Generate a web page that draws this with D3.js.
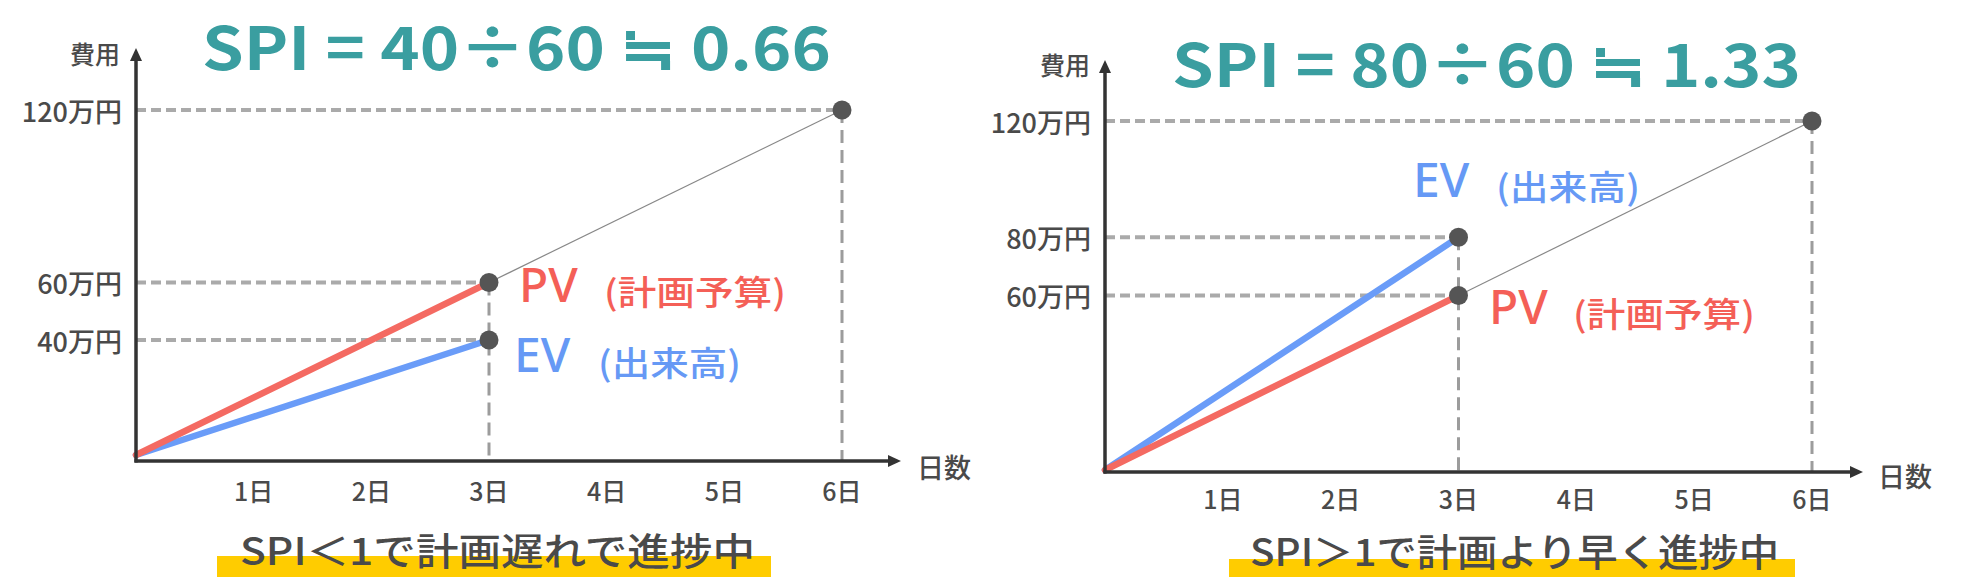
<!DOCTYPE html>
<html><head><meta charset="utf-8">
<script src="https://cdn.jsdelivr.net/npm/d3@7"></script>
<style>
html,body{margin:0;padding:0;background:#fff;}
svg{display:block;font-family:"Noto Sans CJK JP","Noto Sans",sans-serif;}
</style>
</head><body>
<svg id="chart" width="1965" height="577"></svg>
<script>
// ---- data ----
const dayTicks = [1, 2, 3, 4, 5, 6];
const dayTickLabels = ["1日", "2日", "3日", "4日", "5日", "6日"];
const titles = ["SPI = 40÷60 ≒ 0.66", "SPI = 80÷60 ≒ 1.33"];
const captions = ["SPI＜1で計画遅れで進捗中", "SPI＞1で計画より早く進捗中"];
const seriesDays = [0, 3];
const pvValues = [0, 60];
const evValuesLeft = [0, 40];
const evValuesRight = [0, 80];
const planDays = [3, 6];
const planValues = [60, 120];
const yTicksLeft = [120, 60, 40];
const yTicksRight = [120, 80, 60];
const yTickLabelsLeft = ["120万円", "60万円", "40万円"];
const yTickLabelsRight = ["120万円", "80万円", "60万円"];
const yAxisTitle = "費用";
const xAxisTitle = "日数";
const pvName = "PV", pvSub = "(計画予算)";
const evName = "EV", evSub = "(出来高)";

// ---- styles ----
const C = {
  axis: "#333", text: "#4a4a4a", title: "#3a9ea0", pv: "#f46a62", pvText: "#f45f57",
  ev: "#6a9cf8", evText: "#6699f5", point: "#555", guideH: "#aaa", guideV: "#9c9c9c",
  plan: "#888", band: "#ffcc00"
};

const svg = d3.select("#chart");

const panels = [
  {
    title: titles[0], caption: captions[0], ev: evValuesLeft, yTicks: yTicksLeft, yLabels: yTickLabelsLeft,
    xRange: [136, 842], yRange: [455, 110], axisY: 461, xAxisEnd: 901, yAxisTop: 48,
    titleX: 202, titleY: 70, titleW: 629,
    yTitle: [95, 53], xTitle: [917, 466], tickY: 490,
    pvLab: [519, 283, 604, 290, 182], evLab: [514, 353, 598, 361, 143],
    cap: [240, 548, 515], band: [217, 556, 554, 21]
  },
  {
    title: titles[1], caption: captions[1], ev: evValuesRight, yTicks: yTicksRight, yLabels: yTickLabelsRight,
    xRange: [1105, 1812], yRange: [470, 121], axisY: 472, xAxisEnd: 1863, yAxisTop: 60,
    titleX: 1172, titleY: 87, titleW: 629,
    yTitle: [1065, 64], xTitle: [1878, 475], tickY: 498,
    pvLab: [1489, 305, 1573, 312, 182], evLab: [1413, 178, 1496, 185, 144],
    cap: [1250, 549, 529], band: [1229, 559, 566, 18]
  }
];

panels.forEach(p => {
  const g = svg.append("g");
  const x = d3.scaleLinear().domain([0, 6]).range(p.xRange);
  const y = d3.scaleLinear().domain([0, 120]).range(p.yRange);
  const x0 = p.xRange[0];

  // yellow band + caption
  g.append("rect").attr("x", p.band[0]).attr("y", p.band[1]).attr("width", p.band[2]).attr("height", p.band[3]).attr("fill", C.band);
  g.append("text").attr("x", p.cap[0]).attr("y", p.cap[1]).attr("dominant-baseline", "central")
    .attr("textLength", p.cap[2]).attr("lengthAdjust", "spacingAndGlyphs")
    .attr("font-size", 38).attr("font-weight", 500).attr("fill", C.text).text(p.caption);

  // title
  g.append("text").attr("x", p.titleX).attr("y", p.titleY)
    .attr("textLength", p.titleW).attr("lengthAdjust", "spacingAndGlyphs")
    .attr("font-size", 60).attr("font-weight", 600).attr("fill", C.title)
    .attr("font-family", "'Noto Sans CJK JP', sans-serif").text(p.title);

  // guide points
  const evEnd = p.ev[p.ev.length - 1];
  const pts = [
    { d: seriesDays[1], v: pvValues[1] },
    { d: seriesDays[1], v: evEnd },
    { d: planDays[1], v: planValues[1] }
  ];
  // horizontal dashed guides
  g.selectAll(".gh").data(pts).join("line")
    .attr("x1", x0).attr("x2", d => x(d.d)).attr("y1", d => y(d.v)).attr("y2", d => y(d.v))
    .attr("stroke", C.guideH).attr("stroke-width", 4).attr("stroke-dasharray", "10 5");
  // vertical dashed guides
  const vpts = [
    { d: seriesDays[1], v: Math.max(pvValues[1], evEnd) },
    { d: planDays[1], v: planValues[1] }
  ];
  g.selectAll(".gv").data(vpts).join("line")
    .attr("x1", d => x(d.d)).attr("x2", d => x(d.d)).attr("y1", d => y(d.v)).attr("y2", p.axisY)
    .attr("stroke", C.guideV).attr("stroke-width", 3).attr("stroke-dasharray", "13 7");

  // plan continuation line
  const line = d3.line().x(d => x(d[0])).y(d => y(d[1]));
  g.append("path").attr("d", line(planDays.map((d, i) => [d, planValues[i]])))
    .attr("fill", "none").attr("stroke", C.plan).attr("stroke-width", 1.2);

  // EV and PV lines
  g.append("path").attr("d", line(seriesDays.map((d, i) => [d, p.ev[i]])))
    .attr("fill", "none").attr("stroke", C.ev).attr("stroke-width", 6.5).attr("stroke-linecap", "round");
  g.append("path").attr("d", line(seriesDays.map((d, i) => [d, pvValues[i]])))
    .attr("fill", "none").attr("stroke", C.pv).attr("stroke-width", 6.5).attr("stroke-linecap", "round");

  // axes
  g.append("line").attr("x1", x0).attr("x2", x0).attr("y1", p.axisY + 1.5).attr("y2", p.yAxisTop + 8)
    .attr("stroke", C.axis).attr("stroke-width", 3.5);
  g.append("path").attr("d", `M${x0},${p.yAxisTop} L${x0 - 6},${p.yAxisTop + 13} L${x0 + 6},${p.yAxisTop + 13} Z`).attr("fill", C.axis);
  g.append("line").attr("x1", x0 - 1.5).attr("x2", p.xAxisEnd - 8).attr("y1", p.axisY).attr("y2", p.axisY)
    .attr("stroke", C.axis).attr("stroke-width", 3.5);
  g.append("path").attr("d", `M${p.xAxisEnd},${p.axisY} L${p.xAxisEnd - 13},${p.axisY - 6} L${p.xAxisEnd - 13},${p.axisY + 6} Z`).attr("fill", C.axis);

  // points
  g.selectAll(".pt").data(pts).join("circle")
    .attr("cx", d => x(d.d)).attr("cy", d => y(d.v)).attr("r", 9.5).attr("fill", C.point);

  // y tick labels
  g.selectAll(".yl").data(p.yTicks).join("text")
    .attr("x", x0 - 14).attr("y", d => y(d)).attr("text-anchor", "end").attr("dominant-baseline", "central")
    .attr("font-size", 27).attr("font-weight", 500).attr("fill", C.text)
    .text((d, i) => p.yLabels[i]);

  // x tick labels
  g.selectAll(".xl").data(dayTicks).join("text")
    .attr("x", d => x(d)).attr("y", p.tickY).attr("text-anchor", "middle").attr("dominant-baseline", "central")
    .attr("font-size", 25).attr("font-weight", 500).attr("fill", C.text)
    .text((d, i) => dayTickLabels[i]);

  // axis titles
  g.append("text").attr("x", p.yTitle[0]).attr("y", p.yTitle[1]).attr("text-anchor", "middle").attr("dominant-baseline", "central")
    .attr("font-size", 25).attr("font-weight", 500).attr("fill", C.text).text(yAxisTitle);
  g.append("text").attr("x", p.xTitle[0]).attr("y", p.xTitle[1]).attr("dominant-baseline", "central")
    .attr("font-size", 27).attr("font-weight", 500).attr("fill", C.text).text(xAxisTitle);

  // series labels
  const lab = (a, name, sub, col) => {
    g.append("text").attr("x", a[0]).attr("y", a[1]).attr("dominant-baseline", "central")
      .attr("font-size", 48).attr("font-weight", 500).attr("fill", col)
      .attr("font-family", "'Noto Sans', sans-serif").text(name);
    g.append("text").attr("x", a[2]).attr("y", a[3]).attr("dominant-baseline", "central")
      .attr("textLength", a[4]).attr("lengthAdjust", "spacingAndGlyphs")
      .attr("font-size", 34).attr("font-weight", 500).attr("fill", col).text(sub);
  };
  lab(p.pvLab, pvName, pvSub, C.pvText);
  lab(p.evLab, evName, evSub, C.evText);
});
</script>
</body></html>
